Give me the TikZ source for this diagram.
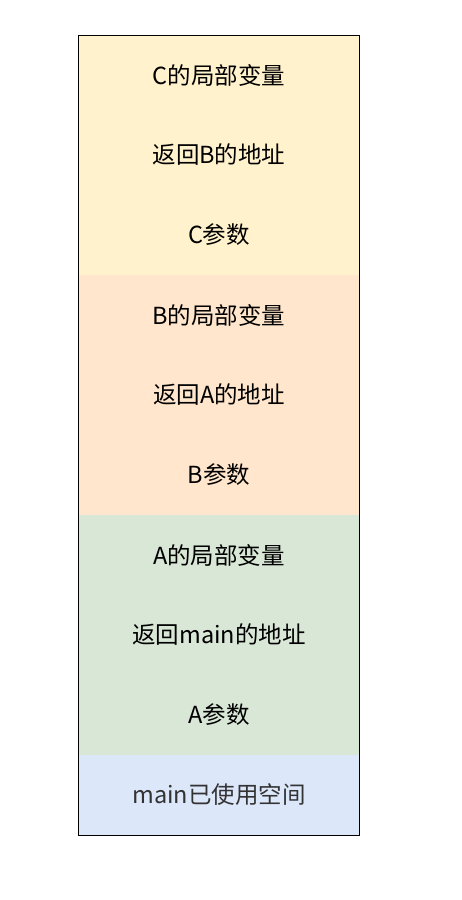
\documentclass[tikz,border=0pt]{standalone}
\usepackage{fontspec}
\setmainfont{Noto Sans CJK SC}
\usetikzlibrary{positioning}
\definecolor{gelb}{HTML}{FFF2CC}
\definecolor{orange}{HTML}{FFE6CC}
\definecolor{gruen}{HTML}{D9E7D6}
\definecolor{blau}{HTML}{DCE7FA}
\begin{document}
\begin{tikzpicture}[x=1pt,y=-1pt,
  zelle/.style={minimum width=281pt, minimum height=80pt, inner sep=0pt,
    outer sep=0pt, font=\fontsize{23.5}{28}\selectfont}]
  \useasboundingbox (0,0) rectangle (462,900);
  % Rahmen von C
  \node[zelle, fill=gelb, anchor=north west] (cvar) at (78.5,35) {C的局部变量};
  \node[zelle, fill=gelb, below=0pt of cvar] (cret) {返回B的地址};
  \node[zelle, fill=gelb, below=0pt of cret] (cpar) {C参数};
  % Rahmen von B
  \node[zelle, fill=orange, below=0pt of cpar] (bvar) {B的局部变量};
  \node[zelle, fill=orange, below=0pt of bvar] (bret) {返回A的地址};
  \node[zelle, fill=orange, below=0pt of bret] (bpar) {B参数};
  % Rahmen von A
  \node[zelle, fill=gruen, below=0pt of bpar] (avar) {A的局部变量};
  \node[zelle, fill=gruen, below=0pt of avar] (aret) {返回main的地址};
  \node[zelle, fill=gruen, below=0pt of aret] (apar) {A参数};
  % main
  \node[zelle, fill=blau, text=black!80, below=0pt of apar] (mainraum) {main已使用空间};
  % Rand
  \draw (cvar.north west) rectangle (mainraum.south east);
\end{tikzpicture}
\end{document}
